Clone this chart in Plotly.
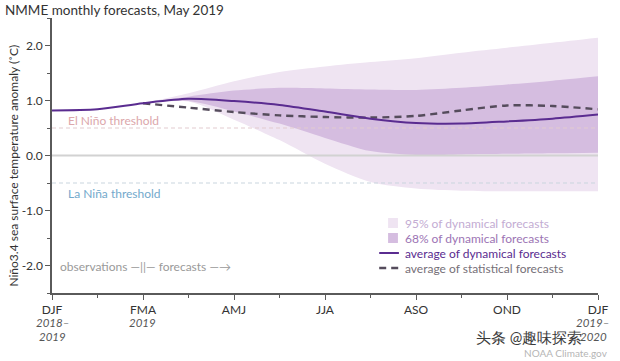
import plotly.graph_objects as go

# ---- data ----
seasons = ["DJF", "JFM", "FMA", "MAM", "AMJ", "MJJ", "JJA", "JAS", "ASO", "SON", "OND", "NDJ", "DJF"]
month_idx = list(range(len(seasons)))
tick_idx = [0, 2, 4, 6, 8, 10, 12]
tick_labels = ["DJF", "FMA", "AMJ", "JJA", "ASO", "OND", "DJF"]

# observations (DJF..FMA) + average of dynamical forecasts (FMA..DJF)
dyn_mean = [0.82, 0.84, 0.95, 1.03, 0.99, 0.92, 0.80, 0.67, 0.59, 0.58, 0.62, 0.67, 0.745]
fc_idx = list(range(2, 13))
stat_mean = [0.95, 0.87, 0.79, 0.73, 0.70, 0.69, 0.72, 0.82, 0.91, 0.90, 0.84]
p95_upper = [0.95, 1.13, 1.35, 1.52, 1.62, 1.70, 1.77, 1.87, 1.96, 2.05, 2.14]
p95_lower = [0.95, 0.98, 0.65, 0.28, -0.15, -0.48, -0.60, -0.64, -0.65, -0.65, -0.65]
p68_upper = [0.95, 1.07, 1.18, 1.23, 1.22, 1.20, 1.19, 1.23, 1.29, 1.36, 1.44]
p68_lower = [0.95, 0.99, 0.80, 0.58, 0.32, 0.08, 0.01, 0.02, 0.03, 0.04, 0.05]
y_ticks = [-2, -1, 0, 1, 2]

FONT = "Lato"
C95 = "#efe4f2"
C68 = "#d5bde0"
CDYN = "#5a2c90"
CSTAT = "#554c5c"

fig = go.Figure()
fig.add_trace(go.Scatter(x=fc_idx, y=p95_lower, mode="lines", line=dict(width=0, shape="spline", smoothing=0.8),
                         showlegend=False, hoverinfo="skip"))
fig.add_trace(go.Scatter(x=fc_idx, y=p95_upper, mode="lines", fill="tonexty", fillcolor=C95,
                         line=dict(width=0, shape="spline", smoothing=0.8), showlegend=False))
fig.add_trace(go.Scatter(x=fc_idx, y=p68_lower, mode="lines", line=dict(width=0, shape="spline", smoothing=0.8),
                         showlegend=False, hoverinfo="skip"))
fig.add_trace(go.Scatter(x=fc_idx, y=p68_upper, mode="lines", fill="tonexty", fillcolor=C68,
                         line=dict(width=0, shape="spline", smoothing=0.8), showlegend=False))
fig.add_trace(go.Scatter(x=fc_idx, y=stat_mean, mode="lines",
                         line=dict(color=CSTAT, width=2.4, dash="7px,5px", shape="spline", smoothing=0.8),
                         showlegend=False))
fig.add_trace(go.Scatter(x=month_idx, y=dyn_mean, mode="lines",
                         line=dict(color=CDYN, width=2, shape="spline", smoothing=0.8), showlegend=False))

# reference lines
fig.add_shape(type="line", xref="x", yref="y", x0=0, x1=12, y0=0, y1=0,
              line=dict(color="#d2d2d2", width=2), layer="above")
fig.add_shape(type="line", xref="x", yref="y", x0=0, x1=12, y0=0.5, y1=0.5,
              line=dict(color="#e2cbcf", width=1, dash="4px,3px"), layer="above")
fig.add_shape(type="line", xref="x", yref="y", x0=0, x1=12, y0=-0.5, y1=-0.5,
              line=dict(color="#c9d5de", width=1, dash="4px,3px"), layer="above")

L, R, T, B = 52, 14, 18, 68
W, H = 620, 361
pw, ph = W - L - R, H - T - B

def px(xpix):
    return (xpix - L) / pw

def py(ypix):
    return (H - B - ypix) / ph

ann = []
def text(t, x, y, size=11, color="#333", xanchor="left", **kw):
    ann.append(dict(text=t, x=px(x), y=py(y), xref="paper", yref="paper", showarrow=False,
                    xanchor=xanchor, yanchor="middle", font=dict(family=FONT, size=size, color=color), **kw))

text("NMME monthly forecasts, May 2019", 2, 10, size=13.5, color="#333")
text("El Niño threshold", 66, 121, size=12, color="#dca7ab")
text("La Niña threshold", 66, 193, size=12, color="#73a9cc")
text("observations —||— forecasts —→", 58, 266, size=12, color="#9a9a9a")
ann.append(dict(text="Niño3.4 sea surface temperature anomaly (˚C)", x=px(12), y=py(166), xref="paper", yref="paper",
                showarrow=False, textangle=-90, xanchor="center", yanchor="middle",
                font=dict(family=FONT, size=12, color="#333")))

# year sub-labels
text("<i>2018–</i>", 52, 322, size=11.5, color="#555", xanchor="center")
text("<i>2019</i>", 52, 336, size=11.5, color="#555", xanchor="center")
text("<i>2019</i>", 144, 322, size=11.5, color="#555", xanchor="center")
text("<i>2019–</i>", 619, 322, size=11.5, color="#555", xanchor="right")
text("<i>2020</i>", 617, 336, size=11.5, color="#555", xanchor="right")

# legend
leg_rows = [223, 238, 253, 268]
leg_text = ["95% of dynamical forecasts", "68% of dynamical forecasts",
            "average of dynamical forecasts", "average of statistical forecasts"]
leg_col = ["#c3acd3", "#9c74b4", CDYN, "#767078"]
for yy, t, c in zip(leg_rows, leg_text, leg_col):
    text(t, 408, yy, size=12, color=c)
shapes = []
shapes.append(dict(type="rect", xref="paper", yref="paper", x0=px(393), x1=px(403), y0=py(228), y1=py(218),
                   fillcolor=C95, line=dict(width=0)))
shapes.append(dict(type="rect", xref="paper", yref="paper", x0=px(393), x1=px(403), y0=py(243), y1=py(233),
                   fillcolor=C68, line=dict(width=0)))
shapes.append(dict(type="line", xref="paper", yref="paper", x0=px(384), x1=px(404), y0=py(253), y1=py(253),
                   line=dict(color=CDYN, width=2)))
shapes.append(dict(type="line", xref="paper", yref="paper", x0=px(384), x1=px(405), y0=py(268), y1=py(268),
                   line=dict(color=CSTAT, width=2.4, dash="7px,5px")))
for s in shapes:
    fig.add_shape(**s)

# watermark-like credits
text("NOAA Climate.gov", 618, 353, size=10, color="#b5b5b5", xanchor="right")
text("头条 @趣味探索", 592, 337, size=15, color="#3a3a3a", xanchor="right")

fig.update_layout(
    width=W, height=H, margin=dict(l=L, r=R, t=T, b=B),
    paper_bgcolor="white", plot_bgcolor="white",
    annotations=ann, showlegend=False,
    font=dict(family=FONT, color="#333"),
    xaxis=dict(range=[0, 12], tickvals=tick_idx, ticktext=tick_labels, showgrid=False, zeroline=False,
               showline=True, linecolor="#5a5a5a", linewidth=1.5, ticks="outside", ticklen=5, tickwidth=1.2,
               tickcolor="#5a5a5a", tickfont=dict(family=FONT, size=12, color="#333"),
               minor=dict(dtick=1, ticks="outside", ticklen=3, tickcolor="#5a5a5a", showgrid=False)),
    yaxis=dict(range=[-2.5, 2.5], tickvals=y_ticks, ticktext=[f"{v:.1f}" for v in y_ticks], showgrid=False,
               zeroline=False, showline=True, linecolor="#5a5a5a", linewidth=1.5, ticks="outside", ticklen=5,
               tickwidth=1.2, tickcolor="#5a5a5a", tickfont=dict(family=FONT, size=12, color="#333"),
               minor=dict(dtick=0.5, tick0=0.5, ticks="outside", ticklen=3, tickcolor="#5a5a5a", showgrid=False)),
)

fig.write_html("out.html", config={"displayModeBar": False},
               post_script="document.body.style.margin='0';document.body.style.overflow='hidden';")
